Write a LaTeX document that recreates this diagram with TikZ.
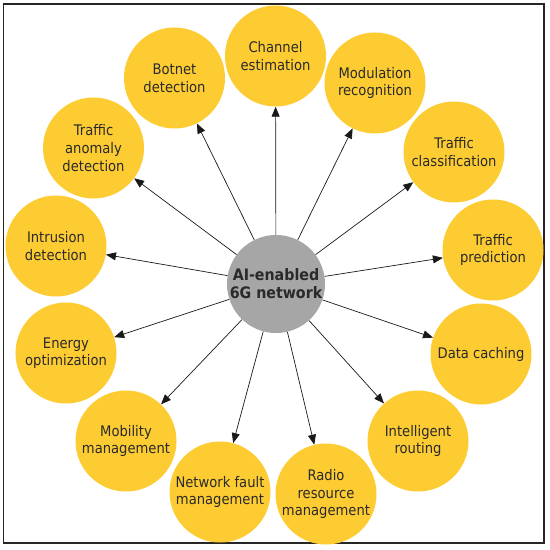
\documentclass[tikz,border=0pt]{standalone}
\usepackage{fontspec}
\setmainfont{DejaVu Sans}[FakeStretch=0.9]
\usetikzlibrary{arrows.meta}
\definecolor{hubgray}{HTML}{A6A6A6}
\definecolor{leafyellow}{HTML}{FDCC33}
\definecolor{txt}{HTML}{2A2A2A}
\tikzset{
  leaf/.style={circle, fill=leafyellow, minimum size=101bp, inner sep=0pt, align=center, text=txt,
    font=\fontsize{14.6bp}{17.6bp}\selectfont},
  hub/.style={circle, fill=hubgray, minimum size=98bp, inner sep=0pt, align=center, text=txt,
    font=\bfseries\fontsize{15.8bp}{18bp}\selectfont},
  link/.style={draw=black!90, line width=0.7bp, -{Triangle[length=10bp,width=8bp]}},
  frame/.style={draw=black!85, line width=1.5bp}
}
\begin{document}
\begin{tikzpicture}[x=1bp,y=-1bp]
\useasboundingbox (0,0) rectangle (550,550);
\draw[frame] (3.5,4) rectangle (544,543);
\node[hub] (hub) at (276,284) {AI-enabled\\6G network};
\node[leaf] (chan) at (275.5,56) {Channel\\estimation};
\node[leaf] (mod) at (375,83) {Modulation\\recognition};
\node[leaf] (tcl) at (454,152) {Traffic\\classification};
\node[leaf] (tpr) at (493,250) {Traffic\\prediction};
\node[leaf] (dc) at (481,354) {Data caching};
\node[leaf] (ir) at (418,441) {Intelligent\\routing};
\node[leaf] (rrm) at (326,494) {Radio\\resource\\management};
\node[leaf] (nfm) at (220,492) {Network fault\\management};
\node[leaf] (mm) at (126,441) {Mobility\\management};
\node[leaf] (eo) at (66,353) {Energy\\optimization};
\node[leaf] (id) at (56,246) {Intrusion\\detection};
\node[leaf] (tad) at (93.5,148) {Traffic\\anomaly\\detection};
\node[leaf] (bd) at (174.5,78) {Botnet\\detection};
\foreach \n in {chan,mod,tcl,tpr,dc,ir,rrm,nfm,mm,eo,id,tad,bd}
  \draw[link] (hub) -- (\n);
\end{tikzpicture}
\end{document}
